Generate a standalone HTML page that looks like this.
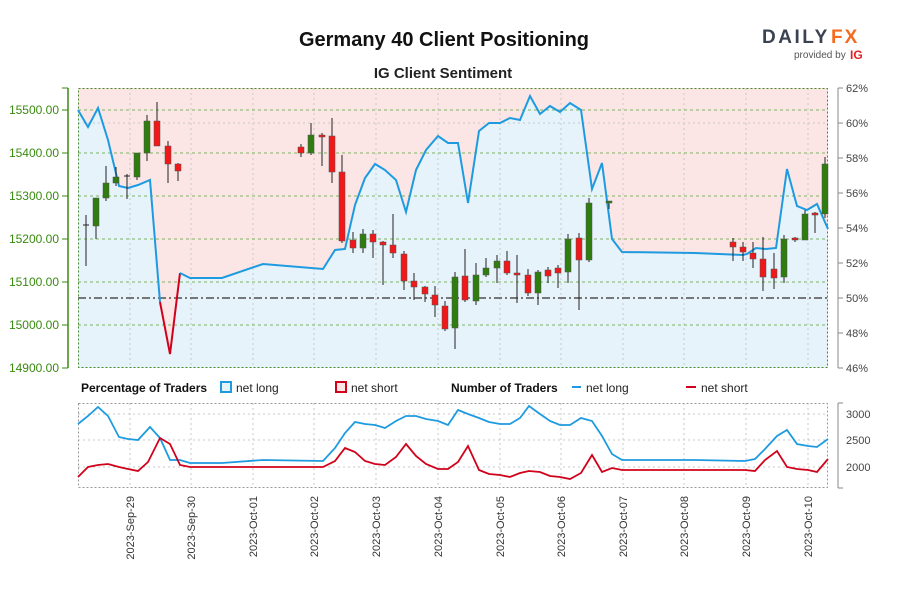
<!DOCTYPE html>
<html><head><meta charset="utf-8"><style>
html,body{margin:0;padding:0;background:#fff;}
svg{display:block;font-family:"Liberation Sans",sans-serif;}
</style></head><body>
<svg width="900" height="600" viewBox="0 0 900 600" xmlns="http://www.w3.org/2000/svg">
<rect width="900" height="600" fill="#fff"/>
<text x="444" y="46" text-anchor="middle" font-size="20" font-weight="600" fill="#111">Germany 40 Client Positioning</text>
<text x="443" y="78" text-anchor="middle" font-size="15" font-weight="600" fill="#222">IG Client Sentiment</text>
<text x="762" y="43" font-size="19" font-weight="bold" fill="#3c4350" letter-spacing="2.5">DAILY</text>
<text x="831" y="43" font-size="19" font-weight="bold" fill="#f26b21" letter-spacing="2">FX</text>
<text x="794" y="58" font-size="10" fill="#555">provided by</text>
<text x="850" y="59" font-size="12" font-weight="bold" fill="#e02020">IG</text>

<!-- main panel -->
<rect x="78" y="88" width="750" height="280" fill="#fbe5e5"/>
<polygon fill="#e6f3fb" points="78,368 78,110 88,127 98,108 108,140 119,186 128,188 138,185 150,180 160,302 170,354 180,273 190,278 222,278 263,264 323,269 335,250 345,249 355,205 365,178 375,164 385,170 396,180 406,212 416,170 426,150 438,136 448,143 458,143 468,203 479,131 489,123 500,123 510,118 520,120 530,96 540,114 550,106 560,112 570,103 581,110 592,189 602,163 612,239 622,252 695,253 743,255 747,254 756,248 766,249 776,248 787,169 797,206 807,210 817,204 828,229 828,368"/>
<g stroke="#c8c8c8" stroke-dasharray="2,3" stroke-width="1">
<line x1="130" y1="88" x2="130" y2="368"/><line x1="191" y1="88" x2="191" y2="368"/><line x1="253" y1="88" x2="253" y2="368"/><line x1="314" y1="88" x2="314" y2="368"/><line x1="376" y1="88" x2="376" y2="368"/><line x1="438" y1="88" x2="438" y2="368"/><line x1="500" y1="88" x2="500" y2="368"/><line x1="561" y1="88" x2="561" y2="368"/><line x1="623" y1="88" x2="623" y2="368"/><line x1="684" y1="88" x2="684" y2="368"/><line x1="746" y1="88" x2="746" y2="368"/><line x1="808" y1="88" x2="808" y2="368"/>
<line x1="78" y1="123" x2="828" y2="123"/>
</g>
<g stroke="#7cb563" stroke-dasharray="3,3" stroke-width="1">
<line x1="78" y1="110" x2="828" y2="110"/><line x1="78" y1="153" x2="828" y2="153"/><line x1="78" y1="196" x2="828" y2="196"/><line x1="78" y1="239" x2="828" y2="239"/><line x1="78" y1="282" x2="828" y2="282"/><line x1="78" y1="325" x2="828" y2="325"/>
</g>
<rect x="78.5" y="88.5" width="749" height="279" fill="none" stroke="#4a8a2a" stroke-dasharray="2,2"/>
<line x1="78" y1="298" x2="828" y2="298" stroke="#777" stroke-width="2" stroke-dasharray="8,3,2,3"/>
<polyline fill="none" stroke="#1e9be0" stroke-width="2" points="78,110 88,127 98,108 108,140 119,186 128,188 138,185 150,180 160,302"/>
<polyline fill="none" stroke="#d0021b" stroke-width="2" points="160,302 170,354 180,273"/>
<polyline fill="none" stroke="#1e9be0" stroke-width="2" points="180,273 190,278 222,278 263,264 323,269 335,250 345,249 355,205 365,178 375,164 385,170 396,180 406,212 416,170 426,150 438,136 448,143 458,143 468,203 479,131 489,123 500,123 510,118 520,120 530,96 540,114 550,106 560,112 570,103 581,110 592,189 602,163 612,239 622,252 695,253 743,255 747,254 756,248 766,249 776,248 787,169 797,206 807,210 817,204 828,229"/>

<!-- candles -->
<g stroke="#222" stroke-width="1">
<line x1="86" y1="215" x2="86" y2="266"/><line x1="96" y1="198" x2="96" y2="239"/><line x1="106" y1="166" x2="106" y2="201"/><line x1="116" y1="167" x2="116" y2="186"/><line x1="127" y1="174" x2="127" y2="199"/><line x1="137" y1="153" x2="137" y2="180"/><line x1="147" y1="115" x2="147" y2="161"/><line x1="157" y1="102" x2="157" y2="146"/><line x1="168" y1="141" x2="168" y2="183"/><line x1="178" y1="163" x2="178" y2="181"/>
<line x1="301" y1="144" x2="301" y2="157"/><line x1="311" y1="123" x2="311" y2="155"/><line x1="322" y1="133" x2="322" y2="166"/><line x1="332" y1="118" x2="332" y2="183"/><line x1="342" y1="155" x2="342" y2="243"/><line x1="353" y1="232" x2="353" y2="253"/><line x1="363" y1="229" x2="363" y2="253"/><line x1="373" y1="230" x2="373" y2="258"/><line x1="383" y1="241" x2="383" y2="285"/><line x1="393" y1="214" x2="393" y2="258"/><line x1="404" y1="251" x2="404" y2="290"/><line x1="414" y1="273" x2="414" y2="300"/><line x1="425" y1="286" x2="425" y2="302"/><line x1="435" y1="286" x2="435" y2="317"/><line x1="445" y1="301" x2="445" y2="331"/>
<line x1="455" y1="272" x2="455" y2="349"/><line x1="465" y1="249" x2="465" y2="302"/><line x1="476" y1="263" x2="476" y2="305"/><line x1="486" y1="258" x2="486" y2="277"/><line x1="497" y1="255" x2="497" y2="283"/><line x1="507" y1="251" x2="507" y2="275"/><line x1="517" y1="255" x2="517" y2="303"/><line x1="528" y1="269" x2="528" y2="296"/><line x1="538" y1="270" x2="538" y2="305"/><line x1="548" y1="267" x2="548" y2="283"/><line x1="558" y1="265" x2="558" y2="288"/><line x1="568" y1="234" x2="568" y2="283"/><line x1="579" y1="233" x2="579" y2="310"/><line x1="589" y1="198" x2="589" y2="262"/><line x1="609" y1="201" x2="609" y2="209"/>
<line x1="733" y1="238" x2="733" y2="261"/><line x1="743" y1="242" x2="743" y2="261"/><line x1="753" y1="242" x2="753" y2="268"/><line x1="763" y1="237" x2="763" y2="291"/><line x1="774" y1="253" x2="774" y2="289"/><line x1="784" y1="235" x2="784" y2="283"/><line x1="795" y1="237" x2="795" y2="242"/><line x1="805" y1="210" x2="805" y2="240"/><line x1="815" y1="212" x2="815" y2="233"/><line x1="825" y1="157" x2="825" y2="218"/>
</g>
<g fill="#2e7d0e" stroke="#555" stroke-width="0.5">
<rect x="93" y="198" width="6" height="28"/><rect x="103" y="183" width="6" height="15"/><rect x="113" y="177" width="6" height="6"/><rect x="134" y="153" width="6" height="24"/><rect x="144" y="121" width="6" height="32"/>
<rect x="308" y="135" width="6" height="18"/><rect x="360" y="234" width="6" height="14"/>
<rect x="452" y="277" width="6" height="51"/><rect x="473" y="275" width="6" height="26"/><rect x="483" y="268" width="6" height="7"/><rect x="494" y="261" width="6" height="7"/><rect x="535" y="272" width="6" height="21"/><rect x="565" y="239" width="6" height="33"/><rect x="586" y="203" width="6" height="57"/><rect x="606" y="201" width="6" height="2"/>
<rect x="781" y="239" width="6" height="38"/><rect x="802" y="214" width="6" height="26"/><rect x="822" y="164" width="6" height="50"/>
</g>
<g fill="#f01818" stroke="#555" stroke-width="0.5">
<rect x="154" y="121" width="6" height="25"/><rect x="165" y="146" width="6" height="18"/><rect x="175" y="164" width="6" height="7"/>
<rect x="298" y="147" width="6" height="6"/><rect x="319" y="135" width="6" height="2"/><rect x="329" y="136" width="6" height="36"/><rect x="339" y="172" width="6" height="69"/><rect x="350" y="240" width="6" height="8"/><rect x="370" y="234" width="6" height="8"/><rect x="380" y="242" width="6" height="3"/><rect x="390" y="245" width="6" height="8"/><rect x="401" y="254" width="6" height="27"/><rect x="411" y="281" width="6" height="6"/><rect x="422" y="287" width="6" height="7"/><rect x="432" y="295" width="6" height="10"/><rect x="442" y="306" width="6" height="23"/>
<rect x="462" y="276" width="6" height="24"/><rect x="504" y="261" width="6" height="12"/><rect x="514" y="273" width="6" height="2"/><rect x="525" y="275" width="6" height="18"/><rect x="545" y="270" width="6" height="6"/><rect x="555" y="268" width="6" height="5"/><rect x="576" y="238" width="6" height="22"/>
<rect x="730" y="242" width="6" height="5"/><rect x="740" y="247" width="6" height="5"/><rect x="750" y="253" width="6" height="6"/><rect x="760" y="259" width="6" height="18"/><rect x="771" y="269" width="6" height="9"/><rect x="792" y="238" width="6" height="2"/><rect x="812" y="213" width="6" height="2"/>
</g>
<line x1="83" y1="225" x2="89" y2="225" stroke="#222"/><line x1="124" y1="176" x2="130" y2="176" stroke="#222"/>

<!-- left axis -->
<line x1="68" y1="88" x2="68" y2="368" stroke="#3a8a10" stroke-width="1.5"/>
<g stroke="#3a8a10"><line x1="62" y1="88" x2="68" y2="88"/><line x1="62" y1="110" x2="68" y2="110"/><line x1="62" y1="153" x2="68" y2="153"/><line x1="62" y1="196" x2="68" y2="196"/><line x1="62" y1="239" x2="68" y2="239"/><line x1="62" y1="282" x2="68" y2="282"/><line x1="62" y1="325" x2="68" y2="325"/><line x1="62" y1="368" x2="68" y2="368"/></g>
<g font-size="12" fill="#3a8a10" text-anchor="end">
<text x="59" y="114">15500.00</text><text x="59" y="157">15400.00</text><text x="59" y="200">15300.00</text><text x="59" y="243">15200.00</text><text x="59" y="286">15100.00</text><text x="59" y="329">15000.00</text><text x="59" y="372">14900.00</text>
</g>
<!-- right axis -->
<line x1="838" y1="88" x2="838" y2="368" stroke="#888"/>
<g stroke="#888"><line x1="838" y1="88" x2="843" y2="88"/><line x1="838" y1="123" x2="843" y2="123"/><line x1="838" y1="158" x2="843" y2="158"/><line x1="838" y1="193" x2="843" y2="193"/><line x1="838" y1="228" x2="843" y2="228"/><line x1="838" y1="263" x2="843" y2="263"/><line x1="838" y1="298" x2="843" y2="298"/><line x1="838" y1="333" x2="843" y2="333"/><line x1="838" y1="368" x2="843" y2="368"/></g>
<g font-size="11" fill="#444">
<text x="846" y="92">62%</text><text x="846" y="127">60%</text><text x="846" y="162">58%</text><text x="846" y="197">56%</text><text x="846" y="232">54%</text><text x="846" y="267">52%</text><text x="846" y="302">50%</text><text x="846" y="337">48%</text><text x="846" y="372">46%</text>
</g>

<!-- legend -->
<text x="81" y="392" font-size="12" font-weight="bold" fill="#111">Percentage of Traders</text>
<rect x="221" y="382" width="10" height="10" fill="#e6f3fb" stroke="#1e9be0" stroke-width="2"/>
<text x="236" y="392" font-size="12" fill="#222">net long</text>
<rect x="336" y="382" width="10" height="10" fill="#fbe5e5" stroke="#d0021b" stroke-width="2"/>
<text x="351" y="392" font-size="12" fill="#222">net short</text>
<text x="451" y="392" font-size="12" font-weight="bold" fill="#111">Number of Traders</text>
<line x1="572" y1="387" x2="581" y2="387" stroke="#1e9be0" stroke-width="2"/>
<text x="586" y="392" font-size="12" fill="#222">net long</text>
<line x1="686" y1="387" x2="696" y2="387" stroke="#d0021b" stroke-width="2"/>
<text x="701" y="392" font-size="12" fill="#222">net short</text>

<!-- bottom panel -->
<g stroke="#c8c8c8" stroke-dasharray="2,3">
<line x1="78" y1="414" x2="828" y2="414"/><line x1="78" y1="440" x2="828" y2="440"/><line x1="78" y1="467" x2="828" y2="467"/>
<line x1="130" y1="403" x2="130" y2="488"/><line x1="191" y1="403" x2="191" y2="488"/><line x1="253" y1="403" x2="253" y2="488"/><line x1="314" y1="403" x2="314" y2="488"/><line x1="376" y1="403" x2="376" y2="488"/><line x1="438" y1="403" x2="438" y2="488"/><line x1="500" y1="403" x2="500" y2="488"/><line x1="561" y1="403" x2="561" y2="488"/><line x1="623" y1="403" x2="623" y2="488"/><line x1="684" y1="403" x2="684" y2="488"/><line x1="746" y1="403" x2="746" y2="488"/><line x1="808" y1="403" x2="808" y2="488"/>
</g>
<rect x="78.5" y="403.5" width="749" height="84" fill="none" stroke="#999" stroke-dasharray="2,2"/>
<polyline fill="none" stroke="#1e9be0" stroke-width="1.8" points="78,424 88,416 98,407 108,416 119,437 128,439 138,440 150,427 160,438 170,460 180,460 190,463 222,463 263,460 323,461 335,448 345,433 355,422 365,424 375,425 385,428 396,421 406,416 416,416 426,419 438,421 448,425 458,410 468,414 479,418 489,422 500,424 510,424 520,418 529,406 540,414 550,421 560,425 570,425 581,418 592,421 602,436 612,454 622,460 695,460 745,461 755,459 765,449 777,436 787,430 797,444 808,446 817,447 828,439"/>
<polyline fill="none" stroke="#d0021b" stroke-width="1.8" points="78,477 88,467 98,465 108,464 119,467 128,469 138,471 148,462 160,438 170,444 180,465 190,467 323,467 335,461 345,448 355,452 365,461 375,464 385,465 396,457 406,444 416,456 426,464 438,469 448,469 458,462 468,446 479,470 489,474 500,475 510,477 520,473 529,471 540,472 550,476 560,477 570,479 581,473 592,455 602,472 612,468 622,470 745,470 755,471 765,460 777,451 787,467 797,469 808,470 817,472 828,459"/>
<line x1="838" y1="403" x2="838" y2="488" stroke="#888"/>
<g stroke="#888"><line x1="838" y1="403" x2="843" y2="403"/><line x1="838" y1="488" x2="843" y2="488"/></g>
<g font-size="11" fill="#444"><text x="846" y="418">3000</text><text x="846" y="444">2500</text><text x="846" y="471">2000</text></g>

<g font-size="11" fill="#333" text-anchor="end">
<text transform="translate(134,496) rotate(-90)">2023-Sep-29</text>
<text transform="translate(195,496) rotate(-90)">2023-Sep-30</text>
<text transform="translate(257,496) rotate(-90)">2023-Oct-01</text>
<text transform="translate(318,496) rotate(-90)">2023-Oct-02</text>
<text transform="translate(380,496) rotate(-90)">2023-Oct-03</text>
<text transform="translate(442,496) rotate(-90)">2023-Oct-04</text>
<text transform="translate(504,496) rotate(-90)">2023-Oct-05</text>
<text transform="translate(565,496) rotate(-90)">2023-Oct-06</text>
<text transform="translate(627,496) rotate(-90)">2023-Oct-07</text>
<text transform="translate(688,496) rotate(-90)">2023-Oct-08</text>
<text transform="translate(750,496) rotate(-90)">2023-Oct-09</text>
<text transform="translate(812,496) rotate(-90)">2023-Oct-10</text>
</g>
</svg>
</body></html>
